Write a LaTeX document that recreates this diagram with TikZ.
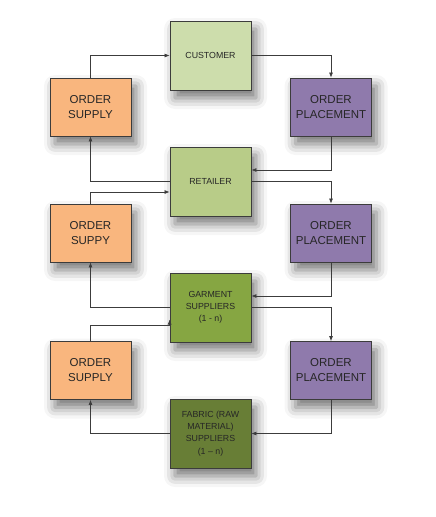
\documentclass[tikz,border=0pt]{standalone}
\usepackage{fontspec}
\setmainfont{Liberation Sans}
\usetikzlibrary{arrows.meta, shadows.blur}
\definecolor{custgreen}{RGB}{205,221,172}
\definecolor{retgreen}{RGB}{184,204,136}
\definecolor{garmgreen}{RGB}{134,166,66}
\definecolor{fabgreen}{RGB}{104,126,54}
\definecolor{supplyorange}{RGB}{249,182,126}
\definecolor{placepurple}{RGB}{143,122,172}
\definecolor{linegray}{RGB}{60,60,60}
\tikzset{
box/.style={draw=linegray, line width=0.8pt, text=black!85, align=center,
  blur shadow={shadow xshift=5pt, shadow yshift=-8pt, shadow blur radius=11pt, shadow opacity=55}}, % every box
chain/.style={box, minimum width=81pt, minimum height=69pt, font=\fontsize{8.8}{12.3}\selectfont}, % green column
supply/.style={box, fill=supplyorange, minimum width=81pt, minimum height=58pt, font=\fontsize{11.5}{15}\selectfont},
placement/.style={box, fill=placepurple, minimum width=81pt, minimum height=58pt, font=\fontsize{11.5}{15}\selectfont},
flow/.style={draw=linegray, line width=0.7pt, -{Latex[length=5pt,width=4pt]}}, % connectors
}
\begin{document}
\begin{tikzpicture}[x=1pt, y=-1pt, node distance=126pt]
\useasboundingbox (0,0) rectangle (436,517);
% green column
\node[chain, fill=custgreen] (customer) at (210.5,55.5) {CUSTOMER};
\node[chain, fill=retgreen, below of=customer] (retailer) {RETAILER};
\node[chain, fill=garmgreen, below of=retailer] (garment) {GARMENT\\SUPPLIERS\\(1 - n)};
\node[chain, fill=fabgreen, below of=garment] (fabric) {FABRIC (RAW\\MATERIAL)\\SUPPLIERS\\(1 -- n)};
% order supply side
\node[supply] (supply1) at (90.5,107) {ORDER\\SUPPLY};
\node[supply] (supply2) at (90.5,233) {ORDER\\SUPPY};
\node[supply] (supply3) at (90.5,370.5) {ORDER\\SUPPLY};
% order placement side
\node[placement] (place1) at (331,107) {ORDER\\PLACEMENT};
\node[placement] (place2) at (331,233) {ORDER\\PLACEMENT};
\node[placement] (place3) at (331,370.5) {ORDER\\PLACEMENT};
% connectors
\draw[flow] (supply1.north) |- (customer.west);
\draw[flow] (customer.east) -| (place1.north);
\draw[flow] (place1.south) |- ([yshift=11.5pt]retailer.east);
\draw[flow] (retailer.west) -| (supply1.south);
\draw[flow] (supply2.north) |- ([yshift=-10.5pt]retailer.west);
\draw[flow] (retailer.east) -| (place2.north);
\draw[flow] (place2.south) |- ([yshift=11.5pt]garment.east);
\draw[flow] (garment.west) -| (supply2.south);
\draw[flow] (supply3.north) |- ([yshift=-18pt]garment.west) -- ([yshift=-12pt]garment.west);
\draw[flow] (garment.east) -| (place3.north);
\draw[flow] (place3.south) |- (fabric.east);
\draw[flow] (fabric.west) -| (supply3.south);
\end{tikzpicture}
\end{document}
